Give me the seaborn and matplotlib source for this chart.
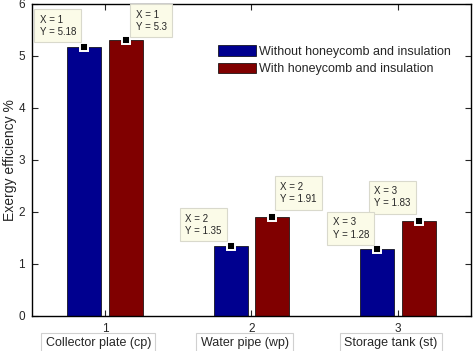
import matplotlib
matplotlib.use("Agg")
import matplotlib.pyplot as plt
import seaborn as sns
import pandas as pd

# ---- data ----
categories = ["1", "2", "3"]
component_labels = ["Collector plate (cp)", "Water pipe (wp)", "Storage tank (st)"]
series_names = ["Without honeycomb and insulation", "With honeycomb and insulation"]
without_vals = [5.18, 1.35, 1.28]
with_vals = [5.3, 1.91, 1.83]
y_ticks = [0, 1, 2, 3, 4, 5, 6]
y_label = "Exergy efficiency %"
colors = ["#00008f", "#800000"]

# layout of datatip boxes (offsets in points, alignment)
tip_layout = {
    (0, 0): ((-6.0, 7.0), "right"),
    (0, 1): ((-6.5, 7.0), "right"),
    (0, 2): ((-5.8, 7.0), "right"),
    (1, 0): ((7.0, 6.0), "left"),
    (1, 1): ((5.8, 9.0), "left"),
    (1, 2): ((-5.8, 9.0), "right"),
}

sns.set_style("ticks")
plt.rcParams["font.family"] = ["Liberation Sans", "DejaVu Sans"]

df = pd.DataFrame({
    "component": categories * 2,
    "series": [series_names[0]] * 3 + [series_names[1]] * 3,
    "value": without_vals + with_vals,
})

fig = plt.figure(figsize=(4.74, 3.51), dpi=100)
ax = fig.add_axes([32 / 474, 1 - 316 / 351, (471 - 32) / 474, (316 - 4) / 351])

sns.barplot(data=df, x="component", y="value", hue="series", order=categories,
            hue_order=series_names, palette=colors, width=0.57, gap=0.19,
            edgecolor="black", linewidth=0.5, saturation=1, ax=ax, errorbar=None)

ax.set_xlim(-0.5, 2.5)
ax.set_ylim(0, 6)
ax.set_yticks(y_ticks)
ax.set_xlabel("")
ax.set_ylabel(y_label, fontsize=10, labelpad=1)
ax.tick_params(direction="in", top=True, right=True, length=4, width=0.8,
               labelsize=8.5, pad=5)
for s in ax.spines.values():
    s.set_visible(True)
    s.set_linewidth(1.0)
    s.set_color("black")

# legend
leg = ax.get_legend()
handles = leg.legend_handles
labels = [t.get_text() for t in leg.get_texts()]
leg.remove()
newleg = ax.legend(handles, labels, loc="upper left",
                   bbox_to_anchor=(218 / 474, 1 - 45 / 351), bbox_transform=fig.transFigure,
                   frameon=False, fontsize=9, handlelength=3.0, handleheight=0.95,
                   handletextpad=0.3, labelspacing=0.4, borderpad=0, borderaxespad=0)
for h in newleg.legend_handles:
    h.set_edgecolor("black")
    h.set_linewidth(0.5)

# datatips
tip_box = dict(boxstyle="square,pad=0.55", facecolor="#fbfbe8", edgecolor="#d9d9cc", linewidth=0.8)
for si, cont in enumerate(ax.containers):
    vals = without_vals if si == 0 else with_vals
    for ci, bar in enumerate(cont):
        x = bar.get_x() + bar.get_width() / 2
        y = bar.get_height()
        ax.plot([x], [y], marker="s", markersize=5.5, color="black",
                markeredgecolor="white", markeredgewidth=1.4, zorder=5, clip_on=False)
        (dx, dy), ha = tip_layout[(si, ci)]
        ax.annotate(f"X = {categories[ci]}\nY = {vals[ci]}", xy=(x, y), xytext=(dx, dy),
                    textcoords="offset points", ha=ha, va="bottom", multialignment="left",
                    fontsize=7, linespacing=1.3, bbox=tip_box,
                    zorder=6 if si == 1 and ci == 2 else 7, annotation_clip=False)

# component label boxes below ticks
lab_box = dict(boxstyle="square,pad=0.35", facecolor="white", edgecolor="#d0d0d0", linewidth=0.8)
for ci, lab in enumerate(component_labels):
    ax.annotate(lab, xy=(ci, 0), xycoords=("data", "axes fraction"), xytext=(-5, -19.5),
                textcoords="offset points", ha="center", va="center", fontsize=9,
                bbox=lab_box, annotation_clip=False)

fig.savefig("out.png", dpi=100)
